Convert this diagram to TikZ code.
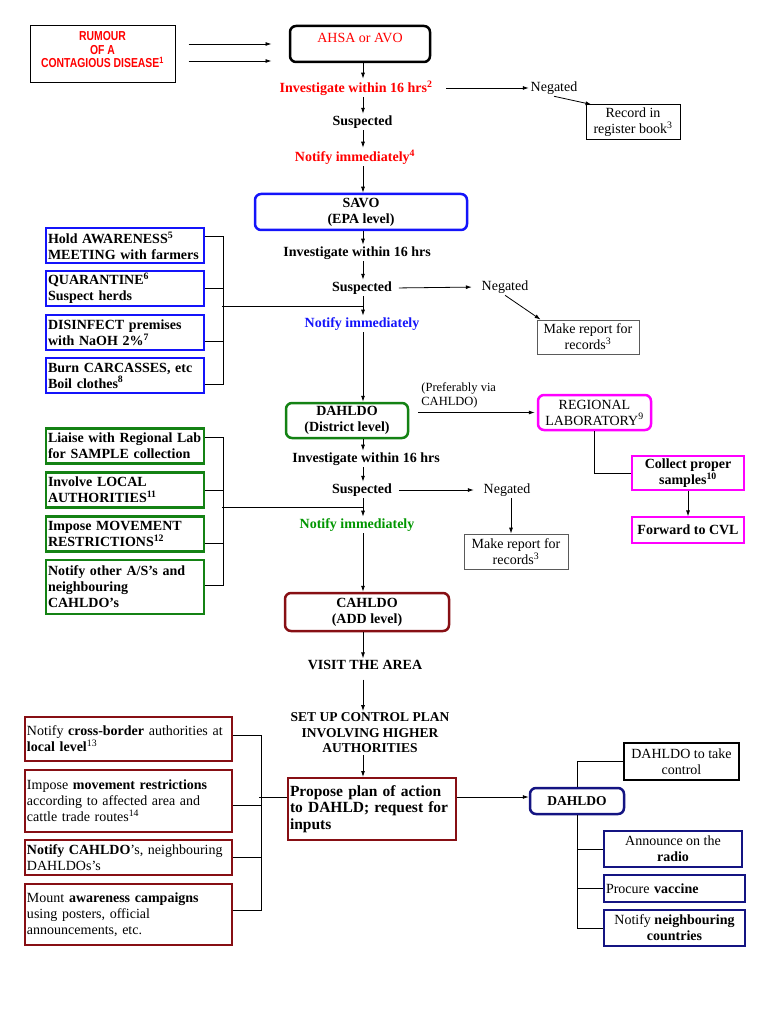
\documentclass[tikz,border=0pt]{standalone}
\usepackage{fontspec}
\setmainfont{Liberation Serif}
\newfontfamily\rumourfont[FakeStretch=0.8]{Liberation Sans}
\usetikzlibrary{positioning,arrows.meta}

\definecolor{alarmred}{RGB}{255,0,0}
\definecolor{savoblue}{RGB}{20,20,250}
\definecolor{dahlgreen}{RGB}{20,130,20}
\definecolor{notegreen}{RGB}{0,150,0}
\definecolor{cahlred}{RGB}{135,15,20}
\definecolor{labpink}{RGB}{255,0,255}
\definecolor{navyblue}{RGB}{20,20,130}
\definecolor{reportgray}{RGB}{90,90,90}

\newcommand{\stdfont}{\fontsize{14}{16}\selectfont}
\tikzset{every picture/.style={line width=0.8pt}}

\begin{document}
\begin{tikzpicture}[x=1pt, y=-1pt, font=\stdfont,
    arr/.style={-{Latex[length=6pt,width=4pt]}},
    stage/.style={inner sep=1.5pt, font=\stdfont\bfseries},
    office/.style={draw, rounded corners=6pt, line width=2.5pt, align=center, font=\stdfont\bfseries, inner sep=1pt},
    task/.style={draw, line width=2.5pt, align=left, text width=154pt, inner xsep=2pt, inner ysep=1pt, font=\stdfont\bfseries, minimum height=35pt},
    plantask/.style={draw=cahlred, line width=2pt, align=left, text width=203pt, inner xsep=2pt, inner ysep=1pt, minimum height=35pt},
    report/.style={draw, line width=0.8pt, align=center, inner sep=1pt},
    action/.style={draw=navyblue, line width=2pt, align=center, inner sep=1pt}]
    \useasboundingbox (0,0) rectangle (768,1024);
    \coordinate (col) at (363,0);

    % Rumour and first contact
    \node[draw, line width=1pt, minimum width=145pt, minimum height=57pt, align=center, text=alarmred, text depth=10pt,
          font=\fontsize{13}{13.5}\selectfont\rumourfont\bfseries] (rumour) at (102.5,54.5)
          {RUMOUR\\ OF A\\ CONTAGIOUS DISEASE\textsuperscript{1}};
    \node[office, draw=black, font=\stdfont, text=alarmred, text depth=12pt, minimum width=140pt, minimum height=36pt] (ahsa) at (360,44) {AHSA or AVO};
    \draw[arr, shorten <=13pt] ([yshift=10.5pt]rumour.east) -- ++(96,0);
    \draw[arr, shorten <=13pt] ([yshift=-6.5pt]rumour.east) -- ++(96,0);

    \node[stage, text=alarmred] (inv1) at (356,88) {Investigate within 16 hrs\textsuperscript{2}};
    \node[stage] (susp1) at (362.5,122) {Suspected};
    \node[stage, text=alarmred] (notif1) at (355,157) {Notify immediately\textsuperscript{4}};
    \node[inner sep=1.5pt] (neg1) at (554,88) {Negated};
    \node[report, line width=1pt, minimum width=94pt, minimum height=35pt] (rec1) at (633,122.5) {Record in\\register book\textsuperscript{3}};
    \draw[arr] (ahsa.south -| col) -- (inv1.north -| col);
    \draw[arr] (inv1.south -| col) -- (susp1.north -| col);
    \draw[arr] (susp1.south -| col) -- (notif1.north -| col);
    \draw[arr, shorten <=12pt] (inv1.east) -- (neg1.west);
    \draw[arr] (neg1.south) -- ([xshift=6pt]rec1.north west);

    % SAVO level
    \node[office, draw=savoblue, minimum width=212pt, minimum height=36pt] (savo) at (361,212) {SAVO\\(EPA level)};
    \draw[arr] (notif1.south -| col) -- (savo.north -| col);
    \node[stage] (inv2) at (357,253) {Investigate within 16 hrs};
    \node[stage] (susp2) at (362,288) {Suspected};
    \node[stage, text=savoblue] (notif2) at (362,324) {Notify immediately};
    \node[inner sep=1.5pt] (neg2) at (505,287) {Negated};
    \node[report, draw=reportgray, minimum width=102pt, minimum height=34pt] (rep2) at (588,337) {Make report for\\records\textsuperscript{3}};
    \draw[arr] (savo.south -| col) -- (inv2.north -| col);
    \draw[arr] (inv2.south -| col) -- (susp2.north -| col);
    \draw[arr] (susp2.south -| col) -- (notif2.north -| col);
    \draw[arr, shorten <=5pt, shorten >=8pt] (susp2.east) -- (neg2.west);
    \draw[arr] (neg2.south) -- ([xshift=4pt]rep2.north west);

    \node[task, draw=savoblue] (hold) at (125,245.5) {Hold AWARENESS\textsuperscript{5}\\MEETING with farmers};
    \node[task, draw=savoblue] (quar) at (125,288.5) {QUARANTINE\textsuperscript{6}\\Suspect herds};
    \node[task, draw=savoblue] (disinf) at (125,332.5) {DISINFECT premises\\with NaOH 2\%\textsuperscript{7}};
    \node[task, draw=savoblue] (burn) at (125,375.5) {Burn CARCASSES, etc\\Boil clothes\textsuperscript{8}};
    \draw ([yshift=9pt]hold.east) -- ++(18,0) |- ([yshift=-9pt]burn.east);
    \draw (quar.east) -- ++(18,0);
    \draw ([yshift=-9pt]disinf.east) -- ++(18,0);
    \coordinate (j2) at (363,306);
    \draw (j2) -- ++(-141,0);

    % DAHLDO level
    \node[office, draw=dahlgreen, minimum width=122pt, minimum height=35pt] (dahldo1) at (347,420.5) {DAHLDO\\(District level)};
    \draw[arr] (notif2.south -| col) -- (dahldo1.north -| col);
    \node[align=left, anchor=west, font=\fontsize{12.5}{14}\selectfont, inner sep=0pt] (pref) at (421,395) {(Preferably via\\CAHLDO)};
    \node[office, draw=labpink, font=\stdfont, minimum width=113pt, minimum height=35pt] (lab) at (594.5,412.5) {REGIONAL\\LABORATORY\textsuperscript{9}};
    \draw[arr, shorten <=9pt, shorten >=2pt] (dahldo1.east |- lab.west) -- (lab.west);
    \node[report, draw=labpink, line width=1.2pt, font=\stdfont\bfseries, minimum width=112pt, minimum height=34pt] (coll) at (688,473) {Collect proper\\samples\textsuperscript{10}};
    \node[report, draw=labpink, line width=1.2pt, font=\stdfont\bfseries, minimum width=112pt, minimum height=26pt] (cvl) at (688,530) {Forward to CVL};
    \draw (lab.south) |- (coll.west);
    \draw[arr] (coll.south) -- (cvl.north);

    \node[stage] (inv3) at (366,459) {Investigate within 16 hrs};
    \node[stage] (susp3) at (362,490) {Suspected};
    \node[stage, text=notegreen] (notif3) at (357,525) {Notify immediately};
    \node[inner sep=1.5pt] (neg3) at (507,490) {Negated};
    \node[report, draw=reportgray, minimum width=104pt, minimum height=35pt] (rep3) at (516,551.5) {Make report for\\records\textsuperscript{3}};
    \draw[arr] (dahldo1.south -| col) -- (inv3.north -| col);
    \draw[arr] (inv3.south -| col) -- (susp3.north -| col);
    \draw[arr] (susp3.south -| col) -- (notif3.north -| col);
    \draw[arr, shorten <=5pt, shorten >=8pt] (susp3.east) -- (neg3.west);
    \draw[arr] ([xshift=4pt]neg3.south) -- ([xshift=4pt]neg3.south |- rep3.north);

    \node[task, draw=dahlgreen] (liaise) at (125,446) {Liaise with Regional Lab\\for SAMPLE collection};
    \node[task, draw=dahlgreen] (involve) at (125,490) {Involve LOCAL\\AUTHORITIES\textsuperscript{11}};
    \node[task, draw=dahlgreen] (impose) at (125,534) {Impose MOVEMENT\\RESTRICTIONS\textsuperscript{12}};
    \node[task, draw=dahlgreen, minimum height=54pt] (nototh) at (125,587) {Notify other A/S’s and\\neighbouring\\CAHLDO’s};
    \draw ([yshift=9pt]liaise.east) -- ++(18,0) |- ([yshift=2pt]nototh.east);
    \draw (involve.east) -- ++(18,0);
    \draw ([yshift=-9pt]impose.east) -- ++(18,0);
    \coordinate (j3) at (363,507);
    \draw (j3) -- ++(-141,0);

    % CAHLDO level
    \node[office, draw=cahlred, minimum width=164pt, minimum height=38pt] (cahldo) at (367,612) {CAHLDO\\(ADD level)};
    \draw[arr] (notif3.south -| col) -- (cahldo.north -| col);
    \node[stage] (visit) at (365,665) {VISIT THE AREA};
    \node[stage, align=center, font=\fontsize{13.5}{15.5}\selectfont\bfseries] (setup) at (370,733) {SET UP CONTROL PLAN\\INVOLVING HIGHER\\AUTHORITIES};
    \node[draw=cahlred, line width=2pt, align=left, text width=164pt, inner xsep=2pt, minimum height=62pt,
          font=\fontsize{15.5}{16.5}\selectfont\bfseries] (prop) at (372,809) {Propose plan of action\\to DAHLD; request for\\inputs};
    \draw[arr] (cahldo.south -| col) -- (visit.north -| col);
    \draw[arr, shorten <=8pt] (visit.south -| col) -- (setup.north -| col);
    \draw[arr] (setup.south -| col) -- (prop.north -| col);

    \node[plantask, minimum height=44pt] (xborder) at (128.5,739) {Notify \textbf{cross-border} authorities at\\\textbf{local level}\textsuperscript{13}};
    \node[plantask, minimum height=62pt] (movres) at (128.5,801) {Impose \textbf{movement restrictions}\\according to affected area and\\cattle trade routes\textsuperscript{14}};
    \node[plantask, minimum height=35pt] (notcah) at (128.5,857.5) {\textbf{Notify CAHLDO}’s, neighbouring\\DAHLDOs’s};
    \node[plantask, minimum height=61pt] (mount) at (128.5,914.5) {Mount \textbf{awareness campaigns}\\using posters, official\\announcements, etc.};
    \draw ([yshift=4pt]xborder.east) -- ++(28,0) |- ([yshift=4.5pt]mount.east);
    \draw ([yshift=-4pt]movres.east) -- ++(28,0);
    \draw (notcah.east) -- ++(28,0);
    \draw ([yshift=12pt]prop.west) -- ++(-28,0);

    % district follow-up
    \node[office, draw=navyblue, font=\fontsize{13.5}{15}\selectfont\bfseries, minimum width=94pt, minimum height=26pt] (dahldo2) at (577,801) {DAHLDO};
    \draw[arr] ([yshift=12pt]prop.east) -- ([yshift=12pt]prop.east -| dahldo2.west);
    \node[draw, line width=2.5pt, align=center, inner sep=1pt, minimum width=115pt, minimum height=37pt] (takectl) at (681.5,761.5) {DAHLDO to take\\control};
    \node[action, minimum width=138pt, minimum height=36pt] (radio) at (673,849) {Announce on the\\\textbf{radio}};
    \node[action, minimum height=27pt, align=left, text width=137pt, inner xsep=2pt] (vaccine) at (674.5,888.5) {Procure \textbf{vaccine}};
    \node[action, minimum width=141pt, minimum height=36pt] (neighb) at (674.5,928) {Notify \textbf{neighbouring}\\\textbf{countries}};
    \draw (takectl.west) -| (dahldo2.north);
    \draw (dahldo2.south) |- (neighb.west);
    \draw (radio.west) -- (radio.west -| dahldo2.south);
    \draw (vaccine.west) -- (vaccine.west -| dahldo2.south);
\end{tikzpicture}
\end{document}
